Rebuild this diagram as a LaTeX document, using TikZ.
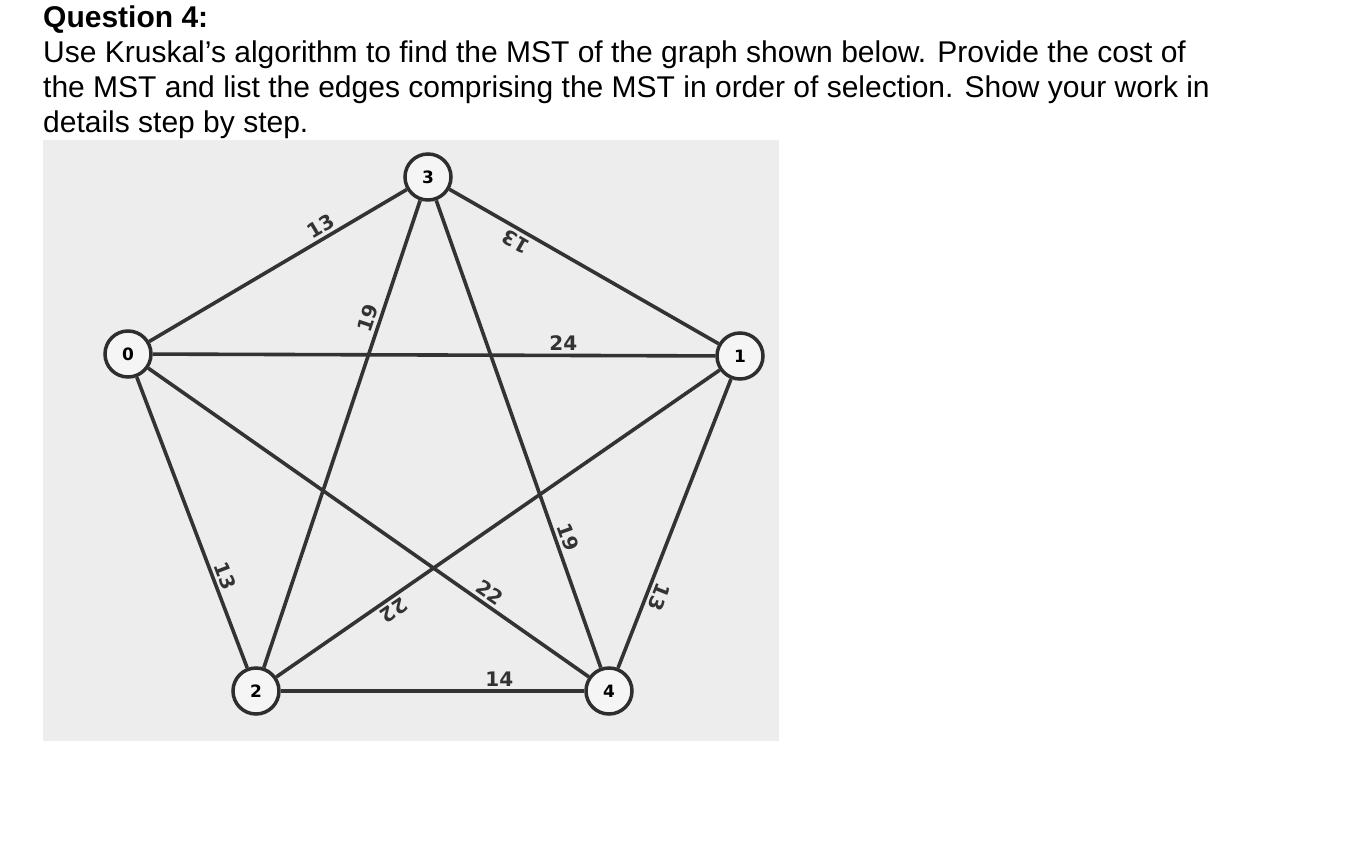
\documentclass[tikz,border=0pt]{standalone}
\usepackage{fontspec}
\setmainfont{Liberation Sans}
\newfontfamily\lblfont{DejaVu Sans}
\begin{document}
\begin{tikzpicture}[x=1pt,y=-1pt,
  vtx/.style={circle,draw=black!82,line width=3.5pt,fill=white!96!black,minimum size=46pt,inner sep=0pt,font=\lblfont\bfseries\fontsize{17}{17}\selectfont},
  edge/.style={draw=black!80,line width=3.6pt},
  wlbl/.style={anchor=south,inner sep=3pt,text=black!80,font=\lblfont\bfseries\fontsize{20}{20}\selectfont}]
\useasboundingbox (0,0) rectangle (1350,854);
\fill[black!7] (43,140) rectangle (779,741);
\node[anchor=base west,inner sep=0,font=\bfseries\fontsize{30}{30}\selectfont] (q) at (43,27) {Question 4:};
\node[anchor=base west,inner sep=0,font=\fontsize{30}{30}\selectfont] (l1) at (43,62) {Use Kruskal’s algorithm to find the MST of the graph shown below. Provide the cost of};
\node[anchor=base west,inner sep=0,font=\fontsize{30}{30}\selectfont] (l2) at (43,97) {the MST and list the edges comprising the MST in order of selection. Show your work in};
\node[anchor=base west,inner sep=0,font=\fontsize{30}{30}\selectfont] (l3) at (43,132) {details step by step.};
\node[vtx] (n3) at (428,177) {3};
\node[vtx] (n0) at (128,354) {0};
\node[vtx] (n1) at (740,356) {1};
\node[vtx] (n2) at (256,691) {2};
\node[vtx] (n4) at (609,691) {4};
\path[edge] (n0) -- node[wlbl,pos=0.69,rotate=30.5]{13} (n3);
\path[edge] (n1) -- node[wlbl,pos=0.73,rotate=150.2]{13} (n3);
\path[edge] (n2) -- node[wlbl,pos=0.74,rotate=71.5]{19} (n3);
\path[edge] (n0) -- node[wlbl,pos=0.70,rotate=-69.2]{13} (n2);
\path[edge] (n1) -- node[wlbl,pos=0.75,rotate=214.7]{22} (n2);
\path[edge] (n0) -- node[wlbl,pos=0.76,rotate=-35]{22} (n4);
\path[edge] (n3) -- node[wlbl,pos=0.73,rotate=-70.6]{19} (n4);
\path[edge] (n1) -- node[wlbl,pos=0.74,rotate=-111.4]{13} (n4);
\path[edge] (n2) -- node[wlbl,pos=0.72]{14} (n4);
\path[edge] (n0) -- node[wlbl,pos=0.73]{24} (n1);
\end{tikzpicture}
\end{document}
